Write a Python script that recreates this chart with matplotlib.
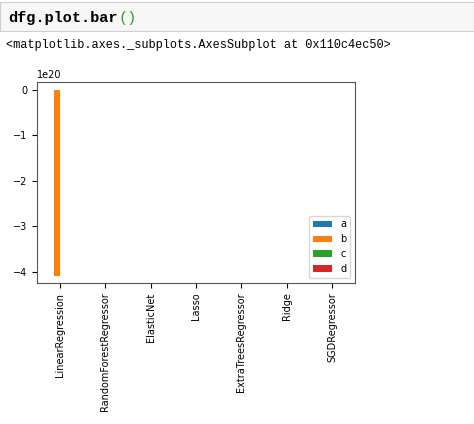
import matplotlib.pyplot as plt
import numpy as np
from matplotlib.patches import Rectangle

models = ['LinearRegression', 'RandomForestRegressor', 'ElasticNet', 'Lasso',
          'ExtraTreesRegressor', 'Ridge', 'SGDRegressor']
series_a = [0.6, 0.8, 0.3, 0.3, 0.8, 0.6, 0.5]
series_b = [-4.1e20, 0.8, 0.3, 0.3, 0.8, 0.6, -1e9]
series_c = [0.6, 0.8, 0.3, 0.3, 0.8, 0.6, 0.5]
series_d = [0.6, 0.8, 0.3, 0.3, 0.8, 0.6, 0.5]
names = ['a', 'b', 'c', 'd']
colors = ['#1f77b4', '#ff7f0e', '#2ca02c', '#d62728']

fig = plt.figure(figsize=(4.74, 4.24), dpi=100)

# notebook chrome
fig.patches.append(Rectangle((0.0, 1 - 31 / 424), 1.0, 29 / 424, transform=fig.transFigure,
                             facecolor='#f7f7f7', edgecolor='#cfcfcf', lw=0.8))
t = fig.text(0.018, 1 - 18 / 424, 'dfg.plot.bar', family='Liberation Mono', fontsize=11,
             va='center', weight='bold')
fig.canvas.draw()
paren = fig.text(0, 0, '()', family='Liberation Mono', fontsize=11, color='#2ca02c')
paren.set_position((1, 0.5))
paren.set_transform(t.get_transform() if False else plt.matplotlib.transforms.IdentityTransform())
bb = t.get_window_extent()
paren.set_position((bb.x1, (bb.y0 + bb.y1) / 2))
paren.set_va('center')
fig.text(0.012, 1 - 45 / 424, '<matplotlib.axes._subplots.AxesSubplot at 0x110c4ec50>',
         family='Liberation Mono', fontsize=8.6, va='center')

ax = fig.add_axes([0.078, 0.333, 0.671, 0.474])
x = np.arange(len(models))
w = 0.5 / 4
for i, (vals, name) in enumerate(zip([series_a, series_b, series_c, series_d], names)):
    ax.bar(x - 0.25 + w * (i + 0.5), vals, w, color=colors[i], label=name)
ax.set_xlim(-0.5, len(models) - 0.5)
ax.set_ylim(-4.24e20, 0.18e20)
ax.set_yticks(np.arange(-4, 1) * 1e20)
ax.set_xticks(x)
ax.set_xticklabels(models, rotation=90, fontsize=7)
ax.tick_params(axis='y', labelsize=7)
ax.yaxis.get_offset_text().set_fontsize(7)
for s in ax.spines.values():
    s.set_color('#555555')
ax.legend(loc='lower right', fontsize=7)

fig.savefig('out.png', dpi=100)
